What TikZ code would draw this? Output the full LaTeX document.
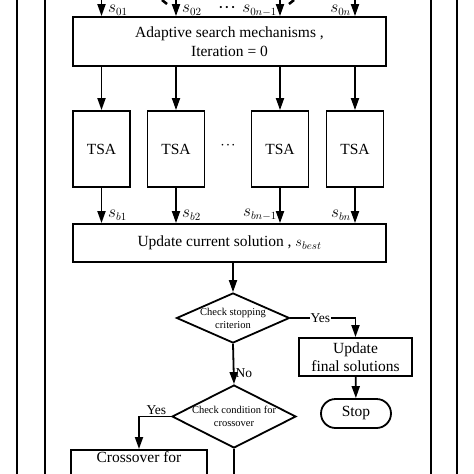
\documentclass[tikz,border=0pt]{standalone}
\usepackage{fontspec}
\setmainfont{Liberation Serif}
\usetikzlibrary{shapes.geometric, arrows.meta, positioning}
\tikzstyle{line} = [draw, -{Triangle[length=12pt,width=8pt]}, line width=1.8pt]

\begin{document}
\begin{tikzpicture}[x=1pt, y=-1pt, box/.style={rectangle,draw=black,line width=1.8pt,align=center,inner sep=0pt,font=\fontsize{15.5}{18.5}\selectfont}, dia/.style={diamond,draw=black,line width=1.8pt,inner sep=0pt}, small/.style={align=center,font=\fontsize{10.5}{13}\selectfont}, lab/.style={inner sep=1pt,font=\fontsize{13.5}{15}\selectfont}, sub/.style={inner sep=0pt,font=\fontsize{16}{18}\selectfont}, dots/.style={inner sep=0pt,font=\fontsize{9}{9}\selectfont}]

    \useasboundingbox (0,0) rectangle (474,474);
    \clip (0,0) rectangle (474,474);

    \foreach \x [count=\i] in {17,45,431,457} {
      \coordinate (vt\i) at (\x,0);
      \coordinate (vb\i) at (\x,474);
      \draw[line width=1.8pt] (vt\i) -- (vb\i);
    }

    \node[box, minimum width=313pt, minimum height=49pt] (adapt) at (229.5,41.5) {Adaptive search mechanisms ,\\Iteration = 0};
    \node[box, minimum width=313pt, minimum height=38pt] (upd) at (229.5,243) {Update current solution , $s_{best}$};

    \foreach \x [count=\i] in {101.5,176,280,355} {
      \node[box, minimum width=57pt, minimum height=76pt] (tsa\i) at (\x,149) {TSA};
      \coordinate (in\i) at (\x,0);
      \draw[line] (in\i) -- (in\i |- adapt.north);
      \draw[line] (tsa\i.north |- adapt.south) -- (tsa\i.north);
      \draw[line] (tsa\i.south) -- (tsa\i.south |- upd.north);
    }

    \node[sub, anchor=west] (s01) at (108,10.5) {$s_{01}$};
    \node[sub, anchor=west] (s02) at (182,10.5) {$s_{02}$};
    \node[sub, anchor=east] (s0m) at (277,10.5) {$s_{0n-1}$};
    \node[sub, anchor=east] (s0n) at (351,10.5) {$s_{0n}$};
    \node[dots] (dtop) at (227,8) {\textbullet\hspace{3pt}\textbullet\hspace{3pt}\textbullet};

    \node[sub, anchor=west] (sb1) at (108,215) {$s_{b1}$};
    \node[sub, anchor=west] (sb2) at (182,215) {$s_{b2}$};
    \node[sub, anchor=east] (sbm) at (277,215) {$s_{bn-1}$};
    \node[sub, anchor=east] (sbn) at (351,215) {$s_{bn}$};
    \node[dots, font=\fontsize{7}{7}\selectfont] (dmid) at (228,146) {\textbullet\hspace{3pt}\textbullet\hspace{3pt}\textbullet};

    \draw[line width=2.5pt] (162,0) -- (167,4);
    \draw[line width=2.5pt] (294,0) -- (289,4);

    \node[dia, minimum width=113pt, minimum height=50pt] (chk) at (233,318) {};
    \node[small] (chkt) at (chk) {Check stopping\\criterion};
    \draw[line] (upd.south -| chk.north) -- (chk.north);

    \node[box, minimum width=113pt, minimum height=38pt] (fin) at (355.5,357) {Update\\final solutions};
    \draw[line] (chk.east) -| node[pos=0.23, lab, fill=white] {Yes} (fin.north);

    \node[box, rounded corners=14.5pt, minimum width=70pt, minimum height=29pt] (stop) at (356,413.5) {Stop};
    \draw[line] (fin) -- (stop);

    \node[dia, minimum width=124pt, minimum height=63pt] (cross) at (234,416.5) {};
    \node[small] (crosst) at (cross) {Check condition for\\crossover};
    \draw[line] (chk.south) -- node[pos=0.72, right, lab] {No} (cross.north);

    \node[box, minimum width=136pt, minimum height=38pt, anchor=north] (xo) at (139,449) {Crossover for\\\strut};
    \draw[line] (cross.west) -| node[pos=0.23, above, lab] {Yes} (xo.north);

    \coordinate (bot) at (cross.south |- 0,474);
    \draw[line width=1.8pt] (cross.south) -- (bot);

\end{tikzpicture}
\end{document}
